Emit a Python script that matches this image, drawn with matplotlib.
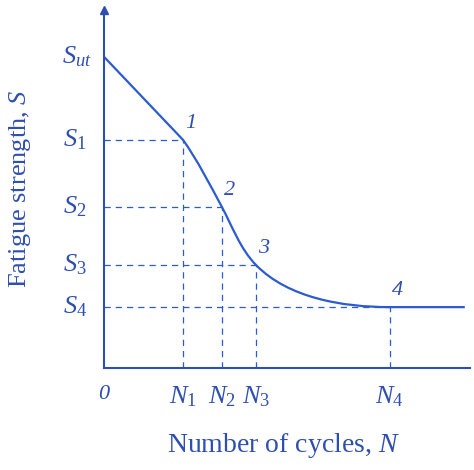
import numpy as np
import matplotlib.pyplot as plt
from matplotlib.path import Path
from matplotlib.patches import PathPatch

plt.rcParams['font.family'] = ['Liberation Serif', 'DejaVu Serif']
plt.rcParams['mathtext.fontset'] = 'custom'
plt.rcParams['mathtext.it'] = 'Liberation Serif:italic'
plt.rcParams['mathtext.rm'] = 'Liberation Serif'
blue = '#2f4fb0'
curve_c = '#2a5bd0'

# S-N points (arbitrary units)
pt_labels = ['1', '2', '3', '4']
n_vals = [2.16, 3.22, 4.15, 7.81]
s_vals = [6.37, 4.50, 2.88, 1.70]
s_ut = 8.69
n_end = 9.86
n_ticks = ['$N_1$', '$N_2$', '$N_3$', '$N_4$']
s_ticks = ['$S_1$', '$S_2$', '$S_3$', '$S_4$']

fig = plt.figure(figsize=(4.74, 4.70), dpi=100)
ax = fig.add_axes([0.2194, 0.217, 0.772, 0.762])
ax.set_xlim(0, 10)
ax.set_ylim(0, 10)
for sp in ['top', 'right']:
    ax.spines[sp].set_visible(False)
for sp in ['left', 'bottom']:
    ax.spines[sp].set_color(blue)
    ax.spines[sp].set_linewidth(1.5)
ax.set_xticks([]); ax.set_yticks([])
ax.plot(0, 10, marker='^', color=blue, ms=6, clip_on=False)

# curve: straight to point 1, then smooth segments to point 4, then flat
pts = [(0, s_ut)] + list(zip(n_vals, s_vals)) + [(n_end, s_vals[-1])]
tang = [None, (1.0, -1.45), (1.0, -1.9), (1.0, -1.05), (1.0, 0.0)]
verts = [pts[0], pts[1]]
codes = [Path.MOVETO, Path.LINETO]
for i in range(1, 4):
    p0, p1 = np.array(pts[i]), np.array(pts[i + 1])
    h = np.hypot(*(p1 - p0))
    t0 = np.array(tang[i]) / np.hypot(*tang[i])
    t1 = np.array(tang[i + 1]) / np.hypot(*tang[i + 1])
    verts += [tuple(p0 + t0 * h / 3), tuple(p1 - t1 * h / 3), tuple(p1)]
    codes += [Path.CURVE4] * 3
verts.append(pts[-1]); codes.append(Path.LINETO)
ax.add_patch(PathPatch(Path(verts, codes), fc='none', ec=curve_c, lw=1.6, clip_on=False))

for n, s, lab, nt, st in zip(n_vals, s_vals, pt_labels, n_ticks, s_ticks):
    ax.plot([0, n], [s, s], ls='--', color=curve_c, lw=0.9, dashes=(5, 4))
    ax.plot([n, n], [0, s], ls='--', color=curve_c, lw=0.9, dashes=(5, 4))
    ax.text(n + 0.05, s + 0.2, lab, color=blue, fontsize=16, style='italic', ha='left', va='bottom')
    ax.text(n, -0.8, nt, color=blue, fontsize=19, ha='center', va='center')
    ax.text(-0.8, s, st, color=blue, fontsize=19, ha='center', va='center')
ax.text(-0.75, s_ut, '$S_{ut}$', color=blue, fontsize=19, ha='center', va='center')
ax.text(0, -0.75, '0', color=blue, fontsize=16, style='italic', ha='center', va='center')

ax.text(4.9, -2.15, 'Number of cycles, $N$', color=blue, fontsize=20, ha='center', va='center')
ax.text(-2.3, 5.0, 'Fatigue strength, $S$', color=blue, fontsize=19, ha='center', va='center', rotation=90)

fig.savefig('out.png', dpi=100)
